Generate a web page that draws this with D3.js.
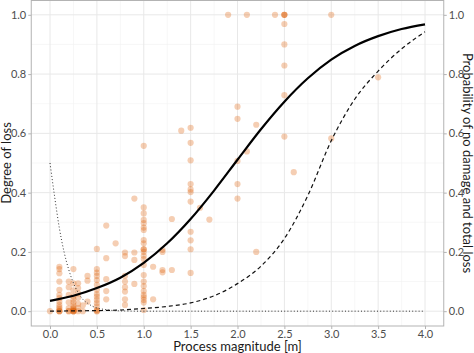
<!DOCTYPE html>
<html lang="en">
<head>
  <meta charset="UTF-8" />
  <title>Degree of loss vs process magnitude</title>
  <script src="https://d3js.org/d3.v7.min.js"></script>
  <style>
    body { margin: 0; background: #fff; }
    text { font-family: Lato, "Open Sans", sans-serif; }
  </style>
</head>
<body>
  <div id="chart"></div>
  <script>
    // observed damage: magnitude [m] and the degree of loss values seen at that magnitude
    var obsMagnitude = [0.0, 0.1, 0.2, 0.25, 0.3, 0.35, 0.4, 0.5, 0.6, 0.7, 0.8, 0.9, 1.0, 1.1, 1.2, 1.3, 1.4, 1.5, 1.6, 1.7, 1.9, 2.0, 2.1, 2.2, 2.4, 2.5, 2.6, 3.0, 3.5]
    var obsLoss = [
      [0],
      [0.15, 0.142, 0.128, 0.1, 0.072, 0.055, 0.044, 0.032, 0.021, 0.013, 0.007, 0, 0, 0],
      [0.1, 0.081, 0.055, 0.03, 0.01, 0, 0],
      [0.142, 0.094, 0.07, 0.05, 0.04, 0.03, 0.02, 0.012, 0.008, 0.004, 0, 0, 0, 0],
      [0.094, 0.078, 0.06, 0.045, 0.025, 0.01, 0],
      [0.02, 0],
      [0.119, 0.103, 0.032],
      [0.21, 0.142, 0.13, 0.119, 0.105, 0.089, 0.072, 0.058, 0.049, 0.038, 0.027, 0.016, 0.004, 0, 0],
      [0.289, 0.179, 0.108, 0.068, 0.04],
      [0.229],
      [0.198, 0.186, 0.119, 0.1, 0.081, 0.066, 0.04, 0.021],
      [0.38, 0.198, 0.173, 0.092],
      [0.558, 0.35, 0.33, 0.308, 0.297, 0.282, 0.274, 0.24, 0.229, 0.209, 0.209, 0.2, 0.187, 0.176, 0.156, 0.122, 0.1, 0.085, 0.068, 0.055, 0.047, 0.038, 0.029, 0.004],
      [0.15, 0.04],
      [0.207, 0.2, 0.139, 0.131],
      [0.311, 0.139],
      [0.609],
      [0.619, 0.568, 0.509, 0.429, 0.411, 0.402, 0.37, 0.268, 0.239, 0.209, 0.129],
      [0.349],
      [0.309],
      [1.0],
      [0.69, 0.649, 0.507, 0.429, 0.38],
      [1.0, 0.539],
      [0.629, 0.2],
      [1.0],
      [1.0, 1.0, 1.0, 0.969, 0.9, 0.829, 0.729, 0.589],
      [0.469],
      [1.0, 0.583],
      [0.789]
    ]

    // fitted curves
    var curveMagnitude = [0, 0.25, 0.5, 0.75, 1.0, 1.25, 1.5, 1.75, 2.0, 2.25, 2.5, 2.75, 3.0, 3.25, 3.5, 3.75, 4.0]
    var meanLoss = [0.035, 0.052, 0.078, 0.113, 0.163, 0.229, 0.311, 0.407, 0.511, 0.614, 0.707, 0.786, 0.849, 0.895, 0.928, 0.952, 0.968]
    var probTotalLoss = [0.0, 0.001, 0.002, 0.004, 0.009, 0.016, 0.028, 0.052, 0.093, 0.152, 0.245, 0.39, 0.575, 0.715, 0.81, 0.885, 0.943]

    var noDamageMagnitude = [0, 0.05, 0.1, 0.15, 0.2, 0.25, 0.3, 0.35, 0.4, 0.5, 0.75, 1.0, 2.0, 3.0, 4.0]
    var probNoDamage = [0.5, 0.385, 0.28, 0.2, 0.14, 0.095, 0.063, 0.04, 0.027, 0.011, 0.001, 0, 0, 0, 0]

    var xTicks = [0, 0.5, 1, 1.5, 2, 2.5, 3, 3.5, 4]
    var yTicks = [0, 0.2, 0.4, 0.6, 0.8, 1.0]

    var W = 474, H = 353
    var pLeft = 31.25, pRight = 443.75, pTop = 0, pBottom = 326

    var x = d3.scaleLinear().domain([-0.2, 4.2]).range([pLeft, pRight])
    var y = d3.scaleLinear().domain([-0.05, 1.05]).range([pBottom, pTop])

    var svg = d3.select("#chart").append("svg")
      .attr("width", W)
      .attr("height", H)

    // grid: minor then major
    var minorX = [0.25, 0.75, 1.25, 1.75, 2.25, 2.75, 3.25, 3.75]
    var minorY = [0.1, 0.3, 0.5, 0.7, 0.9]
    var grid = svg.append("g")
    grid.selectAll(".mx").data(minorX).enter().append("line")
      .attr("x1", function (d) { return x(d) }).attr("x2", function (d) { return x(d) })
      .attr("y1", pTop).attr("y2", pBottom)
      .attr("stroke", "#f2f2f2").attr("stroke-width", 0.6)
    grid.selectAll(".my").data(minorY).enter().append("line")
      .attr("y1", function (d) { return y(d) }).attr("y2", function (d) { return y(d) })
      .attr("x1", pLeft).attr("x2", pRight)
      .attr("stroke", "#f2f2f2").attr("stroke-width", 0.6)
    grid.selectAll(".Mx").data(xTicks).enter().append("line")
      .attr("x1", function (d) { return x(d) }).attr("x2", function (d) { return x(d) })
      .attr("y1", pTop).attr("y2", pBottom)
      .attr("stroke", "#e8e8e8").attr("stroke-width", 1)
    grid.selectAll(".My").data(yTicks).enter().append("line")
      .attr("y1", function (d) { return y(d) }).attr("y2", function (d) { return y(d) })
      .attr("x1", pLeft).attr("x2", pRight)
      .attr("stroke", "#e8e8e8").attr("stroke-width", 1)

    // axes
    var fmt = d3.format(".1f")
    function styleAxis(g) {
      g.select(".domain").remove()
      g.selectAll(".tick line").attr("stroke", "#b3b3b3")
      g.selectAll(".tick text").attr("fill", "#4d4d4d").style("font-size", "11px")
    }
    svg.append("g")
      .attr("transform", "translate(0," + pBottom + ")")
      .call(d3.axisBottom(x).tickValues(xTicks).tickFormat(fmt).tickSize(3).tickPadding(1))
      .call(styleAxis)
    svg.append("g")
      .attr("transform", "translate(" + pLeft + ",0)")
      .call(d3.axisLeft(y).tickValues(yTicks).tickFormat(fmt).tickSize(3).tickPadding(2))
      .call(styleAxis)
    svg.append("g")
      .attr("transform", "translate(" + pRight + ",0)")
      .call(d3.axisRight(y).tickValues(yTicks).tickFormat(fmt).tickSize(3).tickPadding(2))
      .call(styleAxis)

    // panel border
    svg.append("rect")
      .attr("x", pLeft).attr("y", pTop + 0.5)
      .attr("width", pRight - pLeft).attr("height", pBottom - pTop - 0.5)
      .attr("fill", "none").attr("stroke", "#b3b3b3").attr("stroke-width", 1)

    // points
    var pts = []
    obsMagnitude.forEach(function (m, i) {
      obsLoss[i].forEach(function (v) { pts.push({ m: m, v: v }) })
    })
    svg.append("g").selectAll("circle").data(pts).enter().append("circle")
      .attr("cx", function (d) { return x(d.m) })
      .attr("cy", function (d) { return y(d.v) })
      .attr("r", 3.1)
      .attr("fill", "#e0600a")
      .attr("fill-opacity", 0.31)

    // curves
    var line = d3.line()
      .x(function (d) { return x(d[0]) })
      .y(function (d) { return y(d[1]) })
      .curve(d3.curveMonotoneX)

    svg.append("path")
      .datum(noDamageMagnitude.map(function (m, i) { return [m, probNoDamage[i]] }))
      .attr("d", line)
      .attr("fill", "none").attr("stroke", "#333").attr("stroke-width", 1)
      .attr("stroke-dasharray", "1,2.2")
    svg.append("path")
      .datum(curveMagnitude.map(function (m, i) { return [m, probTotalLoss[i]] }))
      .attr("d", line)
      .attr("fill", "none").attr("stroke", "#111").attr("stroke-width", 1.2)
      .attr("stroke-dasharray", "4,3")
    svg.append("path")
      .datum(curveMagnitude.map(function (m, i) { return [m, meanLoss[i]] }))
      .attr("d", line)
      .attr("fill", "none").attr("stroke", "#000").attr("stroke-width", 2.2)

    // titles
    svg.append("text")
      .attr("x", (pLeft + pRight) / 2).attr("y", 350.5)
      .attr("text-anchor", "middle")
      .style("font-size", "13px").attr("fill", "#1a1a1a")
      .text("Process magnitude [m]")
    svg.append("text")
      .attr("transform", "translate(11," + ((pTop + pBottom) / 2) + ") rotate(-90)")
      .attr("text-anchor", "middle")
      .style("font-size", "13px").attr("fill", "#1a1a1a")
      .text("Degree of loss")
    svg.append("text")
      .attr("transform", "translate(462.5," + ((pTop + pBottom) / 2) + ") rotate(90)")
      .attr("text-anchor", "middle")
      .style("font-size", "13px").attr("fill", "#1a1a1a")
      .text("Probability of no damage and total loss")
  </script>
</body>
</html>
